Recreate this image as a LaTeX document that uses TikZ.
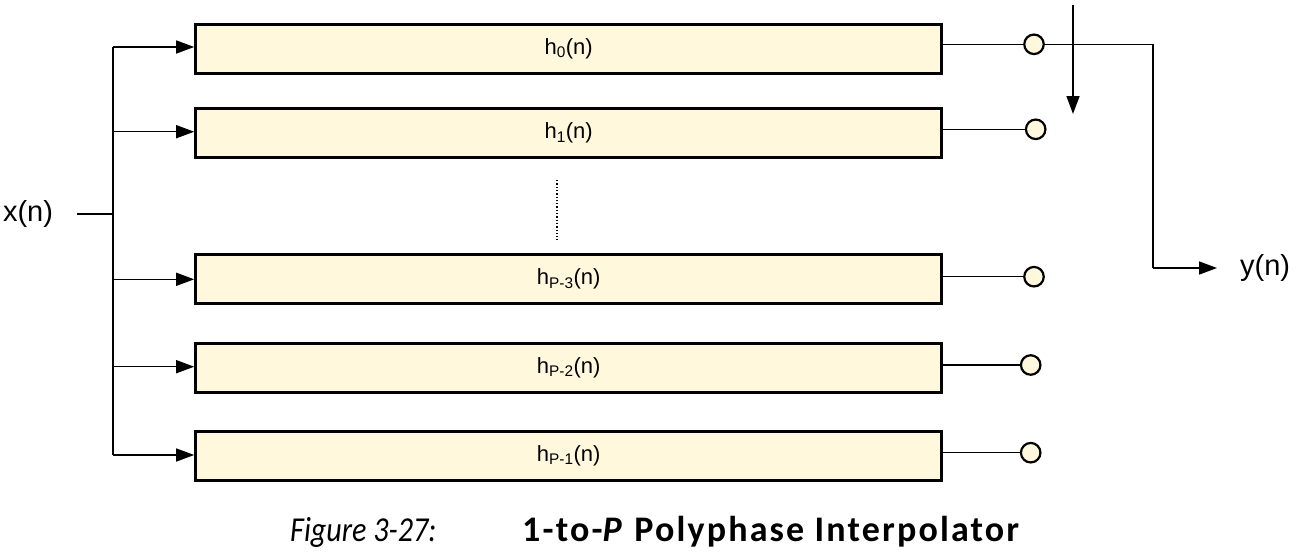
\documentclass[tikz,border=0pt]{standalone}
\usepackage{fontspec}
\setmainfont{Liberation Sans}
\newfontfamily\capfont{Carlito}
\newfontfamily\capbold[LetterSpace=6]{Carlito}
\usetikzlibrary{arrows.meta}
\definecolor{boxfill}{HTML}{FFF8DC}
\tikzset{
  filt/.style={draw=black, line width=3pt, fill=boxfill, minimum width=746pt, minimum height=49pt, inner sep=0pt, font=\fontsize{22}{26}\selectfont},
  tap/.style={circle, draw=black, line width=2.2pt, fill=boxfill, minimum size=19.5pt, inner sep=0pt},
  wire/.style={line width=1.5pt},
  arr/.style={wire, -{Triangle[length=18pt, width=13pt]}},
  lbl/.style={font=\fontsize{29}{33}\selectfont, inner sep=0pt}
}
\begin{document}
\begin{tikzpicture}[x=1pt,y=-1pt]
\useasboundingbox (0,0) rectangle (1296,552);
% filter boxes
\node[filt] (b0) at (568.7,48.5) {h\textsubscript{0}(n)};
\node[filt] (b1) at (568.7,133) {h\textsubscript{1}(n)};
\node[filt] (b3) at (568.7,279.3) {h\textsubscript{P-3}(n)};
\node[filt] (b2) at (568.7,367.5) {h\textsubscript{P-2}(n)};
\node[filt] (b4) at (568.7,455.5) {h\textsubscript{P-1}(n)};
% taps
\node[tap] (t0) at (1034,44.3) {};
\node[tap] (t1) at (1035.7,129.3) {};
\node[tap] (t3) at (1034,276.7) {};
\node[tap] (t2) at (1030.7,365) {};
\node[tap] (t4) at (1030.7,452.7) {};
% input
\node[lbl] (x) at (28,214) {x(n)};
\coordinate (xs) at (77,214);
\coordinate (bus) at (113,214);
\coordinate (bt) at (113,47);
\coordinate (bb) at (113,455);
\draw[wire] (xs) -- (bus);
\draw[wire] (bt) -- (bb);
\draw[arr] (113,47) -- (b0.west |- 0,47);
\draw[arr] (113,131.7) -- (b1.west |- 0,131.7);
\draw[arr] (113,279.3) -- (b3.west |- 0,279.3);
\draw[arr] (113,366.7) -- (b2.west |- 0,366.7);
\draw[arr] (113,455) -- (b4.west |- 0,455);
% outputs
\draw[wire] (b0.east |- t0) -- (t0.west);
\draw[wire] (b1.east |- t1) -- (t1.west);
\draw[wire] (b3.east |- t3) -- (t3.west);
\draw[wire] (b2.east |- t2) -- (t2.west);
\draw[wire] (b4.east |- t4) -- (t4.west);
\coordinate (c1) at (1153,44.3);
\coordinate (c2) at (1153,268);
\node[lbl, anchor=west] (y) at (1240,268) {y(n)};
\draw[wire] (t0.east) -- (c1) -- (c2);
\draw[arr] (c2) -- (1217,268) coordinate (ye);
% commutator arrow
\coordinate (s1) at (1073,5);
\coordinate (s2) at (1073,114);
\draw[arr] (s1) -- (s2);
% dots
\coordinate (d1) at (557,180);
\coordinate (d2) at (557,240);
\draw[line width=1.3pt, dotted] (d1) -- (d2);
% caption
\node[anchor=base west, inner sep=0pt, font=\capfont\fontsize{35}{40}\selectfont] (cap1) at (290,541) {\scalebox{0.86}[1]{\itshape Figure 3-27:}};
\node[anchor=base west, inner sep=0pt, font=\capbold\fontsize{36}{40}\selectfont] (cap2) at (522,541) {\bfseries 1-to-\textit{P} Polyphase Interpolator};
\end{tikzpicture}
\end{document}
